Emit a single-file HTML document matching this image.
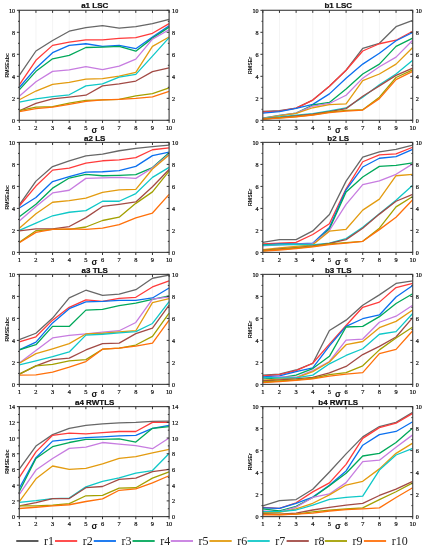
<!DOCTYPE html><html><head><meta charset="utf-8"><style>html,body{margin:0;padding:0;background:#fff;}svg{display:block;}.t{font-family:"Liberation Sans",Arial,sans-serif;fill:#111;}.n{font-family:"Liberation Serif","Times New Roman",serif;fill:#111;stroke:#111;stroke-width:0.22px;}</style></head><body>
<svg width="424" height="550" viewBox="0 0 424 550">
<rect width="424" height="550" fill="#fff"/>
<g><line x1="35.94" y1="10.3" x2="35.94" y2="120.3" stroke="#f1f1f1" stroke-width="0.8"/><line x1="52.59" y1="10.3" x2="52.59" y2="120.3" stroke="#f1f1f1" stroke-width="0.8"/><line x1="69.23" y1="10.3" x2="69.23" y2="120.3" stroke="#f1f1f1" stroke-width="0.8"/><line x1="85.88" y1="10.3" x2="85.88" y2="120.3" stroke="#f1f1f1" stroke-width="0.8"/><line x1="102.52" y1="10.3" x2="102.52" y2="120.3" stroke="#f1f1f1" stroke-width="0.8"/><line x1="119.17" y1="10.3" x2="119.17" y2="120.3" stroke="#f1f1f1" stroke-width="0.8"/><line x1="135.81" y1="10.3" x2="135.81" y2="120.3" stroke="#f1f1f1" stroke-width="0.8"/><line x1="152.46" y1="10.3" x2="152.46" y2="120.3" stroke="#f1f1f1" stroke-width="0.8"/><polyline points="19.3,75.42 35.94,51 52.59,40.55 69.23,31.2 85.88,27.68 102.52,25.7 119.17,28.12 135.81,26.69 152.46,23.61 169.1,19.43" fill="none" stroke="#676767" stroke-width="1.3" stroke-linejoin="round"/><polyline points="19.3,84.77 35.94,60.35 52.59,45.39 69.23,42.2 85.88,39.78 102.52,39.78 119.17,38.46 135.81,37.69 152.46,33.29 169.1,23.61" fill="none" stroke="#ff3b3b" stroke-width="1.3" stroke-linejoin="round"/><polyline points="19.3,87.52 35.94,68.16 52.59,52.65 69.23,45.39 85.88,43.74 102.52,46.38 119.17,45.39 135.81,48.69 152.46,37.03 169.1,25.7" fill="none" stroke="#0a6fef" stroke-width="1.3" stroke-linejoin="round"/><polyline points="19.3,89.94 35.94,71.35 52.59,58.81 69.23,55.29 85.88,47.48 102.52,47.04 119.17,46.38 135.81,51.22 152.46,38.13 169.1,27.13" fill="none" stroke="#00a85a" stroke-width="1.3" stroke-linejoin="round"/><polyline points="19.3,96.21 35.94,81.69 52.59,71.35 69.23,69.81 85.88,66.73 102.52,69.59 119.17,66.07 135.81,59.14 152.46,39.12 169.1,29.77" fill="none" stroke="#c77ce0" stroke-width="1.3" stroke-linejoin="round"/><polyline points="19.3,99.73 35.94,91.04 52.59,84.33 69.23,82.35 85.88,79.16 102.52,78.61 119.17,76.08 135.81,72.34 152.46,46.38 169.1,37.03" fill="none" stroke="#e39b0f" stroke-width="1.3" stroke-linejoin="round"/><polyline points="19.3,102.04 35.94,98.85 52.59,96.65 69.23,94.78 85.88,85.87 102.52,83.78 119.17,77.18 135.81,74.43 152.46,56.17 169.1,37.69" fill="none" stroke="#0fc8c8" stroke-width="1.3" stroke-linejoin="round"/><polyline points="19.3,110.73 35.94,103.47 52.59,98.85 69.23,97.2 85.88,95.22 102.52,85.87 119.17,83.78 135.81,81.03 152.46,71.68 169.1,67.83" fill="none" stroke="#a24a45" stroke-width="1.3" stroke-linejoin="round"/><polyline points="19.3,110.73 35.94,107.21 52.59,106.55 69.23,103.03 85.88,100.39 102.52,99.95 119.17,99.29 135.81,95.77 152.46,93.68 169.1,87.96" fill="none" stroke="#a3a000" stroke-width="1.3" stroke-linejoin="round"/><polyline points="19.3,111.72 35.94,108.64 52.59,107.21 69.23,104.46 85.88,101.38 102.52,99.95 119.17,99.29 135.81,98.3 152.46,96.87 169.1,91.48" fill="none" stroke="#ff700a" stroke-width="1.3" stroke-linejoin="round"/><rect x="19.3" y="10.3" width="149.8" height="110" fill="none" stroke="#4a4a4a" stroke-width="1.2"/><path d="M19.3 120.3v2.6M19.3 10.3v2.6M35.94 120.3v2.6M35.94 10.3v2.6M52.59 120.3v2.6M52.59 10.3v2.6M69.23 120.3v2.6M69.23 10.3v2.6M85.88 120.3v2.6M85.88 10.3v2.6M102.52 120.3v2.6M102.52 10.3v2.6M119.17 120.3v2.6M119.17 10.3v2.6M135.81 120.3v2.6M135.81 10.3v2.6M152.46 120.3v2.6M152.46 10.3v2.6M169.1 120.3v2.6M169.1 10.3v2.6M19.3 120.3h-2.4M169.1 120.3h-2.4M19.3 109.3h-1.3M169.1 109.3h-1.3M19.3 98.3h-2.4M169.1 98.3h-2.4M19.3 87.3h-1.3M169.1 87.3h-1.3M19.3 76.3h-2.4M169.1 76.3h-2.4M19.3 65.3h-1.3M169.1 65.3h-1.3M19.3 54.3h-2.4M169.1 54.3h-2.4M19.3 43.3h-1.3M169.1 43.3h-1.3M19.3 32.3h-2.4M169.1 32.3h-2.4M19.3 21.3h-1.3M169.1 21.3h-1.3M19.3 10.3h-2.4M169.1 10.3h-2.4" stroke="#333" stroke-width="1" fill="none"/><text class="n" x="19.3" y="129.9" font-size="6.4" text-anchor="middle">1</text><text class="n" x="35.94" y="129.9" font-size="6.4" text-anchor="middle">2</text><text class="n" x="52.59" y="129.9" font-size="6.4" text-anchor="middle">3</text><text class="n" x="69.23" y="129.9" font-size="6.4" text-anchor="middle">4</text><text class="n" x="85.88" y="129.9" font-size="6.4" text-anchor="middle">5</text><text class="n" x="102.52" y="129.9" font-size="6.4" text-anchor="middle">6</text><text class="n" x="119.17" y="129.9" font-size="6.4" text-anchor="middle">7</text><text class="n" x="135.81" y="129.9" font-size="6.4" text-anchor="middle">8</text><text class="n" x="152.46" y="129.9" font-size="6.4" text-anchor="middle">9</text><text class="n" x="169.1" y="129.9" font-size="6.4" text-anchor="middle">10</text><text class="n" x="15.1" y="123.1" font-size="6.1" text-anchor="end">0</text><text class="n" x="172.1" y="122.8" font-size="6.1" text-anchor="start">0</text><text class="n" x="15.1" y="101.1" font-size="6.1" text-anchor="end">2</text><text class="n" x="172.1" y="100.8" font-size="6.1" text-anchor="start">2</text><text class="n" x="15.1" y="79.1" font-size="6.1" text-anchor="end">4</text><text class="n" x="172.1" y="78.8" font-size="6.1" text-anchor="start">4</text><text class="n" x="15.1" y="57.1" font-size="6.1" text-anchor="end">6</text><text class="n" x="172.1" y="56.8" font-size="6.1" text-anchor="start">6</text><text class="n" x="15.1" y="35.1" font-size="6.1" text-anchor="end">8</text><text class="n" x="172.1" y="34.8" font-size="6.1" text-anchor="start">8</text><text class="n" x="15.1" y="13.1" font-size="6.1" text-anchor="end">10</text><text class="n" x="172.1" y="12.8" font-size="6.1" text-anchor="start">10</text><text class="t" x="94.5" y="132.7" font-size="8.6" font-weight="bold" text-anchor="middle" fill="#000">&#963;</text><text class="t" x="94.7" y="8.4" font-size="8" font-weight="bold" text-anchor="middle" fill="#000" stroke="#000" stroke-width="0.2">a1 LSC</text><text class="t" x="8.6" y="65.3" font-size="5.3" font-weight="bold" text-anchor="middle" transform="rotate(-90 8.6 65.3)">RMSEabc</text></g>
<g><line x1="35.94" y1="142.4" x2="35.94" y2="252.4" stroke="#f1f1f1" stroke-width="0.8"/><line x1="52.59" y1="142.4" x2="52.59" y2="252.4" stroke="#f1f1f1" stroke-width="0.8"/><line x1="69.23" y1="142.4" x2="69.23" y2="252.4" stroke="#f1f1f1" stroke-width="0.8"/><line x1="85.88" y1="142.4" x2="85.88" y2="252.4" stroke="#f1f1f1" stroke-width="0.8"/><line x1="102.52" y1="142.4" x2="102.52" y2="252.4" stroke="#f1f1f1" stroke-width="0.8"/><line x1="119.17" y1="142.4" x2="119.17" y2="252.4" stroke="#f1f1f1" stroke-width="0.8"/><line x1="135.81" y1="142.4" x2="135.81" y2="252.4" stroke="#f1f1f1" stroke-width="0.8"/><line x1="152.46" y1="142.4" x2="152.46" y2="252.4" stroke="#f1f1f1" stroke-width="0.8"/><polyline points="19.3,204.77 35.94,181.12 52.59,166.6 69.23,160.77 85.88,155.93 102.52,154.17 119.17,150.76 135.81,148.34 152.46,146.69 169.1,145.15" fill="none" stroke="#676767" stroke-width="1.3" stroke-linejoin="round"/><polyline points="19.3,205.98 35.94,186.07 52.59,170.12 69.23,168.03 85.88,163.08 102.52,160.77 119.17,159.78 135.81,157.69 152.46,149.77 169.1,147.9" fill="none" stroke="#ff3b3b" stroke-width="1.3" stroke-linejoin="round"/><polyline points="19.3,208.07 35.94,197.51 52.59,181.56 69.23,176.72 85.88,172.21 102.52,171.77 119.17,170.56 135.81,166.38 152.46,155.6 169.1,152.08" fill="none" stroke="#0a6fef" stroke-width="1.3" stroke-linejoin="round"/><polyline points="19.3,216.76 35.94,204.33 52.59,188.16 69.23,178.04 85.88,174.3 102.52,175.73 119.17,175.29 135.81,174.63 152.46,167.59 169.1,152.85" fill="none" stroke="#00a85a" stroke-width="1.3" stroke-linejoin="round"/><polyline points="19.3,220.94 35.94,206.42 52.59,192.89 69.23,190.25 85.88,178.37 102.52,177.82 119.17,177.38 135.81,178.37 152.46,168.03 169.1,154.17" fill="none" stroke="#c77ce0" stroke-width="1.3" stroke-linejoin="round"/><polyline points="19.3,228.2 35.94,213.68 52.59,202.24 69.23,200.59 85.88,198.06 102.52,192.34 119.17,189.81 135.81,189.37 152.46,169.02 169.1,154.94" fill="none" stroke="#e39b0f" stroke-width="1.3" stroke-linejoin="round"/><polyline points="19.3,230.29 35.94,223.03 52.59,215.77 69.23,212.25 85.88,210.6 102.52,201.25 119.17,201.25 135.81,193.55 152.46,177.38 169.1,167.37" fill="none" stroke="#0fc8c8" stroke-width="1.3" stroke-linejoin="round"/><polyline points="19.3,230.95 35.94,228.86 52.59,228.86 69.23,226.55 85.88,217.64 102.52,206.42 119.17,204.33 135.81,201.91 152.46,186.73 169.1,169.46" fill="none" stroke="#a24a45" stroke-width="1.3" stroke-linejoin="round"/><polyline points="19.3,242.17 35.94,230.73 52.59,229.3 69.23,229.3 85.88,226.99 102.52,220.5 119.17,217.2 135.81,203.34 152.46,191.9 169.1,171.11" fill="none" stroke="#a3a000" stroke-width="1.3" stroke-linejoin="round"/><polyline points="19.3,242.72 35.94,232.38 52.59,229.3 69.23,228.86 85.88,229.3 102.52,228.2 119.17,224.68 135.81,217.86 152.46,213.02 169.1,194.43" fill="none" stroke="#ff700a" stroke-width="1.3" stroke-linejoin="round"/><rect x="19.3" y="142.4" width="149.8" height="110" fill="none" stroke="#4a4a4a" stroke-width="1.2"/><path d="M19.3 252.4v2.6M19.3 142.4v2.6M35.94 252.4v2.6M35.94 142.4v2.6M52.59 252.4v2.6M52.59 142.4v2.6M69.23 252.4v2.6M69.23 142.4v2.6M85.88 252.4v2.6M85.88 142.4v2.6M102.52 252.4v2.6M102.52 142.4v2.6M119.17 252.4v2.6M119.17 142.4v2.6M135.81 252.4v2.6M135.81 142.4v2.6M152.46 252.4v2.6M152.46 142.4v2.6M169.1 252.4v2.6M169.1 142.4v2.6M19.3 252.4h-2.4M169.1 252.4h-2.4M19.3 241.4h-1.3M169.1 241.4h-1.3M19.3 230.4h-2.4M169.1 230.4h-2.4M19.3 219.4h-1.3M169.1 219.4h-1.3M19.3 208.4h-2.4M169.1 208.4h-2.4M19.3 197.4h-1.3M169.1 197.4h-1.3M19.3 186.4h-2.4M169.1 186.4h-2.4M19.3 175.4h-1.3M169.1 175.4h-1.3M19.3 164.4h-2.4M169.1 164.4h-2.4M19.3 153.4h-1.3M169.1 153.4h-1.3M19.3 142.4h-2.4M169.1 142.4h-2.4" stroke="#333" stroke-width="1" fill="none"/><text class="n" x="19.3" y="262" font-size="6.4" text-anchor="middle">1</text><text class="n" x="35.94" y="262" font-size="6.4" text-anchor="middle">2</text><text class="n" x="52.59" y="262" font-size="6.4" text-anchor="middle">3</text><text class="n" x="69.23" y="262" font-size="6.4" text-anchor="middle">4</text><text class="n" x="85.88" y="262" font-size="6.4" text-anchor="middle">5</text><text class="n" x="102.52" y="262" font-size="6.4" text-anchor="middle">6</text><text class="n" x="119.17" y="262" font-size="6.4" text-anchor="middle">7</text><text class="n" x="135.81" y="262" font-size="6.4" text-anchor="middle">8</text><text class="n" x="152.46" y="262" font-size="6.4" text-anchor="middle">9</text><text class="n" x="169.1" y="262" font-size="6.4" text-anchor="middle">10</text><text class="n" x="15.1" y="255.2" font-size="6.1" text-anchor="end">0</text><text class="n" x="172.1" y="254.9" font-size="6.1" text-anchor="start">0</text><text class="n" x="15.1" y="233.2" font-size="6.1" text-anchor="end">2</text><text class="n" x="172.1" y="232.9" font-size="6.1" text-anchor="start">2</text><text class="n" x="15.1" y="211.2" font-size="6.1" text-anchor="end">4</text><text class="n" x="172.1" y="210.9" font-size="6.1" text-anchor="start">4</text><text class="n" x="15.1" y="189.2" font-size="6.1" text-anchor="end">6</text><text class="n" x="172.1" y="188.9" font-size="6.1" text-anchor="start">6</text><text class="n" x="15.1" y="167.2" font-size="6.1" text-anchor="end">8</text><text class="n" x="172.1" y="166.9" font-size="6.1" text-anchor="start">8</text><text class="n" x="15.1" y="145.2" font-size="6.1" text-anchor="end">10</text><text class="n" x="172.1" y="144.9" font-size="6.1" text-anchor="start">10</text><text class="t" x="94.5" y="264.8" font-size="8.6" font-weight="bold" text-anchor="middle" fill="#000">&#963;</text><text class="t" x="94.7" y="140.5" font-size="8" font-weight="bold" text-anchor="middle" fill="#000" stroke="#000" stroke-width="0.2">a2 LS</text><text class="t" x="8.6" y="197.4" font-size="5.3" font-weight="bold" text-anchor="middle" transform="rotate(-90 8.6 197.4)">RMSEabc</text></g>
<g><line x1="35.94" y1="274.4" x2="35.94" y2="384.4" stroke="#f1f1f1" stroke-width="0.8"/><line x1="52.59" y1="274.4" x2="52.59" y2="384.4" stroke="#f1f1f1" stroke-width="0.8"/><line x1="69.23" y1="274.4" x2="69.23" y2="384.4" stroke="#f1f1f1" stroke-width="0.8"/><line x1="85.88" y1="274.4" x2="85.88" y2="384.4" stroke="#f1f1f1" stroke-width="0.8"/><line x1="102.52" y1="274.4" x2="102.52" y2="384.4" stroke="#f1f1f1" stroke-width="0.8"/><line x1="119.17" y1="274.4" x2="119.17" y2="384.4" stroke="#f1f1f1" stroke-width="0.8"/><line x1="135.81" y1="274.4" x2="135.81" y2="384.4" stroke="#f1f1f1" stroke-width="0.8"/><line x1="152.46" y1="274.4" x2="152.46" y2="384.4" stroke="#f1f1f1" stroke-width="0.8"/><polyline points="19.3,339.52 35.94,333.25 52.59,318.07 69.23,297.94 85.88,290.24 102.52,295.3 119.17,294.2 135.81,289.69 152.46,278.25 169.1,275.17" fill="none" stroke="#676767" stroke-width="1.3" stroke-linejoin="round"/><polyline points="19.3,341.94 35.94,336.77 52.59,320.16 69.23,307.29 85.88,299.81 102.52,301.46 119.17,298.38 135.81,297.28 152.46,286.94 169.1,280.78" fill="none" stroke="#ff3b3b" stroke-width="1.3" stroke-linejoin="round"/><polyline points="19.3,349.86 35.94,342.16 52.59,322.91 69.23,308.72 85.88,301.9 102.52,301.46 119.17,300.47 135.81,300.47 152.46,297.94 169.1,288.04" fill="none" stroke="#0a6fef" stroke-width="1.3" stroke-linejoin="round"/><polyline points="19.3,349.86 35.94,344.69 52.59,326.43 69.23,326.43 85.88,310.15 102.52,309.38 119.17,305.64 135.81,303.11 152.46,299.37 169.1,295.85" fill="none" stroke="#00a85a" stroke-width="1.3" stroke-linejoin="round"/><polyline points="19.3,362.95 35.94,350.52 52.59,337.98 69.23,335.34 85.88,333.91 102.52,332.15 119.17,330.72 135.81,322.47 152.46,299.04 169.1,296.95" fill="none" stroke="#c77ce0" stroke-width="1.3" stroke-linejoin="round"/><polyline points="19.3,363.28 35.94,353.6 52.59,348.76 69.23,343.59 85.88,334.02 102.52,333.25 119.17,331.82 135.81,330.72 152.46,302.56 169.1,298.6" fill="none" stroke="#e39b0f" stroke-width="1.3" stroke-linejoin="round"/><polyline points="19.3,364.82 35.94,360.86 52.59,356.68 69.23,351.95 85.88,335.12 102.52,334.24 119.17,332.81 135.81,331.6 152.46,323.46 169.1,301.68" fill="none" stroke="#0fc8c8" stroke-width="1.3" stroke-linejoin="round"/><polyline points="19.3,374.17 35.94,365.81 52.59,359.65 69.23,358.11 85.88,349.97 102.52,343.59 119.17,343.15 135.81,333.69 152.46,328.08 169.1,305.2" fill="none" stroke="#a24a45" stroke-width="1.3" stroke-linejoin="round"/><polyline points="19.3,374.17 35.94,365.81 52.59,364.38 69.23,360.86 85.88,359.65 102.52,349.2 119.17,348.21 135.81,345.02 152.46,336.33 169.1,313.12" fill="none" stroke="#a3a000" stroke-width="1.3" stroke-linejoin="round"/><polyline points="19.3,375.05 35.94,374.83 52.59,372.08 69.23,367.02 85.88,361.52 102.52,349.2 119.17,348.21 135.81,346.12 152.46,343.04 169.1,320.16" fill="none" stroke="#ff700a" stroke-width="1.3" stroke-linejoin="round"/><rect x="19.3" y="274.4" width="149.8" height="110" fill="none" stroke="#4a4a4a" stroke-width="1.2"/><path d="M19.3 384.4v2.6M19.3 274.4v2.6M35.94 384.4v2.6M35.94 274.4v2.6M52.59 384.4v2.6M52.59 274.4v2.6M69.23 384.4v2.6M69.23 274.4v2.6M85.88 384.4v2.6M85.88 274.4v2.6M102.52 384.4v2.6M102.52 274.4v2.6M119.17 384.4v2.6M119.17 274.4v2.6M135.81 384.4v2.6M135.81 274.4v2.6M152.46 384.4v2.6M152.46 274.4v2.6M169.1 384.4v2.6M169.1 274.4v2.6M19.3 384.4h-2.4M169.1 384.4h-2.4M19.3 373.4h-1.3M169.1 373.4h-1.3M19.3 362.4h-2.4M169.1 362.4h-2.4M19.3 351.4h-1.3M169.1 351.4h-1.3M19.3 340.4h-2.4M169.1 340.4h-2.4M19.3 329.4h-1.3M169.1 329.4h-1.3M19.3 318.4h-2.4M169.1 318.4h-2.4M19.3 307.4h-1.3M169.1 307.4h-1.3M19.3 296.4h-2.4M169.1 296.4h-2.4M19.3 285.4h-1.3M169.1 285.4h-1.3M19.3 274.4h-2.4M169.1 274.4h-2.4" stroke="#333" stroke-width="1" fill="none"/><text class="n" x="19.3" y="394" font-size="6.4" text-anchor="middle">1</text><text class="n" x="35.94" y="394" font-size="6.4" text-anchor="middle">2</text><text class="n" x="52.59" y="394" font-size="6.4" text-anchor="middle">3</text><text class="n" x="69.23" y="394" font-size="6.4" text-anchor="middle">4</text><text class="n" x="85.88" y="394" font-size="6.4" text-anchor="middle">5</text><text class="n" x="102.52" y="394" font-size="6.4" text-anchor="middle">6</text><text class="n" x="119.17" y="394" font-size="6.4" text-anchor="middle">7</text><text class="n" x="135.81" y="394" font-size="6.4" text-anchor="middle">8</text><text class="n" x="152.46" y="394" font-size="6.4" text-anchor="middle">9</text><text class="n" x="169.1" y="394" font-size="6.4" text-anchor="middle">10</text><text class="n" x="15.1" y="387.2" font-size="6.1" text-anchor="end">0</text><text class="n" x="172.1" y="386.9" font-size="6.1" text-anchor="start">0</text><text class="n" x="15.1" y="365.2" font-size="6.1" text-anchor="end">2</text><text class="n" x="172.1" y="364.9" font-size="6.1" text-anchor="start">2</text><text class="n" x="15.1" y="343.2" font-size="6.1" text-anchor="end">4</text><text class="n" x="172.1" y="342.9" font-size="6.1" text-anchor="start">4</text><text class="n" x="15.1" y="321.2" font-size="6.1" text-anchor="end">6</text><text class="n" x="172.1" y="320.9" font-size="6.1" text-anchor="start">6</text><text class="n" x="15.1" y="299.2" font-size="6.1" text-anchor="end">8</text><text class="n" x="172.1" y="298.9" font-size="6.1" text-anchor="start">8</text><text class="n" x="15.1" y="277.2" font-size="6.1" text-anchor="end">10</text><text class="n" x="172.1" y="276.9" font-size="6.1" text-anchor="start">10</text><text class="t" x="94.5" y="396.8" font-size="8.6" font-weight="bold" text-anchor="middle" fill="#000">&#963;</text><text class="t" x="94.7" y="272.5" font-size="8" font-weight="bold" text-anchor="middle" fill="#000" stroke="#000" stroke-width="0.2">a3 TLS</text><text class="t" x="8.6" y="329.4" font-size="5.3" font-weight="bold" text-anchor="middle" transform="rotate(-90 8.6 329.4)">RMSEabc</text></g>
<g><line x1="35.94" y1="406.6" x2="35.94" y2="516.6" stroke="#f1f1f1" stroke-width="0.8"/><line x1="52.59" y1="406.6" x2="52.59" y2="516.6" stroke="#f1f1f1" stroke-width="0.8"/><line x1="69.23" y1="406.6" x2="69.23" y2="516.6" stroke="#f1f1f1" stroke-width="0.8"/><line x1="85.88" y1="406.6" x2="85.88" y2="516.6" stroke="#f1f1f1" stroke-width="0.8"/><line x1="102.52" y1="406.6" x2="102.52" y2="516.6" stroke="#f1f1f1" stroke-width="0.8"/><line x1="119.17" y1="406.6" x2="119.17" y2="516.6" stroke="#f1f1f1" stroke-width="0.8"/><line x1="135.81" y1="406.6" x2="135.81" y2="516.6" stroke="#f1f1f1" stroke-width="0.8"/><line x1="152.46" y1="406.6" x2="152.46" y2="516.6" stroke="#f1f1f1" stroke-width="0.8"/><polyline points="19.3,469.06 35.94,446.04 52.59,434.65 69.23,428.36 85.88,425.46 102.52,423.81 119.17,422.79 135.81,422.39 152.46,421.37 169.1,421.14" fill="none" stroke="#676767" stroke-width="1.3" stroke-linejoin="round"/><polyline points="19.3,477.39 35.94,451.86 52.59,435.28 69.23,433.16 85.88,433.79 102.52,432.53 119.17,431.51 135.81,431.51 152.46,422.39 169.1,422.39" fill="none" stroke="#ff3b3b" stroke-width="1.3" stroke-linejoin="round"/><polyline points="19.3,488.31 35.94,457.67 52.59,441.09 69.23,439.36 85.88,437.71 102.52,436.93 119.17,435.91 135.81,435.28 152.46,428.36 169.1,425.3" fill="none" stroke="#0a6fef" stroke-width="1.3" stroke-linejoin="round"/><polyline points="19.3,491.46 35.94,458.46 52.59,446.67 69.23,442.51 85.88,439.36 102.52,439.36 119.17,438.81 135.81,442.11 152.46,428.36 169.1,426.56" fill="none" stroke="#00a85a" stroke-width="1.3" stroke-linejoin="round"/><polyline points="19.3,494.36 35.94,470.09 52.59,458.46 69.23,448.32 85.88,447.06 102.52,442.51 119.17,444.16 135.81,445.65 152.46,448.71 169.1,437.95" fill="none" stroke="#c77ce0" stroke-width="1.3" stroke-linejoin="round"/><polyline points="19.3,501.67 35.94,478.81 52.59,466 69.23,469.46 85.88,468.28 102.52,463.88 119.17,458.46 135.81,456.65 152.46,452.88 169.1,449.34" fill="none" stroke="#e39b0f" stroke-width="1.3" stroke-linejoin="round"/><polyline points="19.3,502.3 35.94,500.65 52.59,498.53 69.23,498.14 85.88,486.9 102.52,481.32 119.17,477.79 135.81,473.23 152.46,470.56 169.1,453.51" fill="none" stroke="#0fc8c8" stroke-width="1.3" stroke-linejoin="round"/><polyline points="19.3,505.84 35.94,502.69 52.59,498.53 69.23,498.53 85.88,487.69 102.52,486.51 119.17,479.28 135.81,478.18 152.46,471.58 169.1,469.46" fill="none" stroke="#a24a45" stroke-width="1.3" stroke-linejoin="round"/><polyline points="19.3,505.84 35.94,505.84 52.59,505.21 69.23,503.71 85.88,495.78 102.52,495.46 119.17,488.16 135.81,487.76 152.46,478.18 169.1,471.97" fill="none" stroke="#a3a000" stroke-width="1.3" stroke-linejoin="round"/><polyline points="19.3,508.51 35.94,507.25 52.59,505.84 69.23,504.74 85.88,501.51 102.52,498.92 119.17,490.28 135.81,488.79 152.46,482.97 169.1,475.74" fill="none" stroke="#ff700a" stroke-width="1.3" stroke-linejoin="round"/><rect x="19.3" y="406.6" width="149.8" height="110" fill="none" stroke="#4a4a4a" stroke-width="1.2"/><path d="M19.3 516.6v2.6M19.3 406.6v2.6M35.94 516.6v2.6M35.94 406.6v2.6M52.59 516.6v2.6M52.59 406.6v2.6M69.23 516.6v2.6M69.23 406.6v2.6M85.88 516.6v2.6M85.88 406.6v2.6M102.52 516.6v2.6M102.52 406.6v2.6M119.17 516.6v2.6M119.17 406.6v2.6M135.81 516.6v2.6M135.81 406.6v2.6M152.46 516.6v2.6M152.46 406.6v2.6M169.1 516.6v2.6M169.1 406.6v2.6M19.3 516.6h-2.4M169.1 516.6h-2.4M19.3 508.74h-1.3M169.1 508.74h-1.3M19.3 500.89h-2.4M169.1 500.89h-2.4M19.3 493.03h-1.3M169.1 493.03h-1.3M19.3 485.17h-2.4M169.1 485.17h-2.4M19.3 477.31h-1.3M169.1 477.31h-1.3M19.3 469.46h-2.4M169.1 469.46h-2.4M19.3 461.6h-1.3M169.1 461.6h-1.3M19.3 453.74h-2.4M169.1 453.74h-2.4M19.3 445.89h-1.3M169.1 445.89h-1.3M19.3 438.03h-2.4M169.1 438.03h-2.4M19.3 430.17h-1.3M169.1 430.17h-1.3M19.3 422.31h-2.4M169.1 422.31h-2.4M19.3 414.46h-1.3M169.1 414.46h-1.3M19.3 406.6h-2.4M169.1 406.6h-2.4" stroke="#333" stroke-width="1" fill="none"/><text class="n" x="19.3" y="526.2" font-size="6.4" text-anchor="middle">1</text><text class="n" x="35.94" y="526.2" font-size="6.4" text-anchor="middle">2</text><text class="n" x="52.59" y="526.2" font-size="6.4" text-anchor="middle">3</text><text class="n" x="69.23" y="526.2" font-size="6.4" text-anchor="middle">4</text><text class="n" x="85.88" y="526.2" font-size="6.4" text-anchor="middle">5</text><text class="n" x="102.52" y="526.2" font-size="6.4" text-anchor="middle">6</text><text class="n" x="119.17" y="526.2" font-size="6.4" text-anchor="middle">7</text><text class="n" x="135.81" y="526.2" font-size="6.4" text-anchor="middle">8</text><text class="n" x="152.46" y="526.2" font-size="6.4" text-anchor="middle">9</text><text class="n" x="169.1" y="526.2" font-size="6.4" text-anchor="middle">10</text><text class="n" x="15.1" y="519.4" font-size="6.1" text-anchor="end">0</text><text class="n" x="172.1" y="519.1" font-size="6.1" text-anchor="start">0</text><text class="n" x="15.1" y="503.69" font-size="6.1" text-anchor="end">2</text><text class="n" x="172.1" y="503.39" font-size="6.1" text-anchor="start">2</text><text class="n" x="15.1" y="487.97" font-size="6.1" text-anchor="end">4</text><text class="n" x="172.1" y="487.67" font-size="6.1" text-anchor="start">4</text><text class="n" x="15.1" y="472.26" font-size="6.1" text-anchor="end">6</text><text class="n" x="172.1" y="471.96" font-size="6.1" text-anchor="start">6</text><text class="n" x="15.1" y="456.54" font-size="6.1" text-anchor="end">8</text><text class="n" x="172.1" y="456.24" font-size="6.1" text-anchor="start">8</text><text class="n" x="15.1" y="440.83" font-size="6.1" text-anchor="end">10</text><text class="n" x="172.1" y="440.53" font-size="6.1" text-anchor="start">10</text><text class="n" x="15.1" y="425.11" font-size="6.1" text-anchor="end">12</text><text class="n" x="172.1" y="424.81" font-size="6.1" text-anchor="start">12</text><text class="n" x="15.1" y="409.4" font-size="6.1" text-anchor="end">14</text><text class="n" x="172.1" y="409.1" font-size="6.1" text-anchor="start">14</text><text class="t" x="94.5" y="529" font-size="8.6" font-weight="bold" text-anchor="middle" fill="#000">&#963;</text><text class="t" x="94.7" y="404.7" font-size="8" font-weight="bold" text-anchor="middle" fill="#000" stroke="#000" stroke-width="0.2">a4 RWTLS</text><text class="t" x="8.6" y="461.6" font-size="5.3" font-weight="bold" text-anchor="middle" transform="rotate(-90 8.6 461.6)">RMSEabc</text></g>
<g><line x1="279.46" y1="10.3" x2="279.46" y2="120.3" stroke="#f1f1f1" stroke-width="0.8"/><line x1="296.11" y1="10.3" x2="296.11" y2="120.3" stroke="#f1f1f1" stroke-width="0.8"/><line x1="312.77" y1="10.3" x2="312.77" y2="120.3" stroke="#f1f1f1" stroke-width="0.8"/><line x1="329.42" y1="10.3" x2="329.42" y2="120.3" stroke="#f1f1f1" stroke-width="0.8"/><line x1="346.08" y1="10.3" x2="346.08" y2="120.3" stroke="#f1f1f1" stroke-width="0.8"/><line x1="362.73" y1="10.3" x2="362.73" y2="120.3" stroke="#f1f1f1" stroke-width="0.8"/><line x1="379.39" y1="10.3" x2="379.39" y2="120.3" stroke="#f1f1f1" stroke-width="0.8"/><line x1="396.04" y1="10.3" x2="396.04" y2="120.3" stroke="#f1f1f1" stroke-width="0.8"/><polyline points="262.8,111.28 279.46,110.73 296.11,108.2 312.77,100.06 329.42,86.2 346.08,70.25 362.73,48.47 379.39,43.3 396.04,26.69 412.7,20.42" fill="none" stroke="#676767" stroke-width="1.3" stroke-linejoin="round"/><polyline points="262.8,112.05 279.46,111.06 296.11,108.2 312.77,100.06 329.42,86.2 346.08,70.25 362.73,51 379.39,43.74 396.04,40.22 412.7,31.2" fill="none" stroke="#ff3b3b" stroke-width="1.3" stroke-linejoin="round"/><polyline points="262.8,113.15 279.46,111.72 296.11,108.42 312.77,104.35 329.42,93.9 346.08,78.17 362.73,64.09 379.39,53.2 396.04,40.77 412.7,32.52" fill="none" stroke="#0a6fef" stroke-width="1.3" stroke-linejoin="round"/><polyline points="262.8,118.1 279.46,115.35 296.11,113.15 312.77,105.01 329.42,102.48 346.08,88.95 362.73,73.99 379.39,64.09 396.04,46.38 412.7,38.13" fill="none" stroke="#00a85a" stroke-width="1.3" stroke-linejoin="round"/><polyline points="262.8,118.43 279.46,115.68 296.11,113.15 312.77,106.22 329.42,103.47 346.08,95.22 362.73,78.17 379.39,66.73 396.04,57.16 412.7,40.22" fill="none" stroke="#c77ce0" stroke-width="1.3" stroke-linejoin="round"/><polyline points="262.8,118.65 279.46,115.9 296.11,113.48 312.77,107.76 329.42,104.68 346.08,103.91 362.73,80.7 379.39,73.99 396.04,64.09 412.7,47.48" fill="none" stroke="#e39b0f" stroke-width="1.3" stroke-linejoin="round"/><polyline points="262.8,118.65 279.46,117 296.11,115.13 312.77,113.59 329.42,110.84 346.08,107.98 362.73,97.2 379.39,84.77 396.04,73.99 412.7,60.35" fill="none" stroke="#0fc8c8" stroke-width="1.3" stroke-linejoin="round"/><polyline points="262.8,118.98 279.46,117.55 296.11,115.9 312.77,114.25 329.42,111.72 346.08,108.64 362.73,96.21 379.39,85.87 396.04,75.42 412.7,68.16" fill="none" stroke="#a24a45" stroke-width="1.3" stroke-linejoin="round"/><polyline points="262.8,119.09 279.46,117.88 296.11,116.67 312.77,114.8 329.42,112.16 346.08,110.29 362.73,109.74 379.39,97.2 396.04,77.51 412.7,69.92" fill="none" stroke="#a3a000" stroke-width="1.3" stroke-linejoin="round"/><polyline points="262.8,119.2 279.46,118.1 296.11,116.78 312.77,115.02 329.42,112.6 346.08,111.17 362.73,110.07 379.39,98.63 396.04,79.6 412.7,71.35" fill="none" stroke="#ff700a" stroke-width="1.3" stroke-linejoin="round"/><rect x="262.8" y="10.3" width="149.9" height="110" fill="none" stroke="#4a4a4a" stroke-width="1.2"/><path d="M262.8 120.3v2.6M262.8 10.3v2.6M279.46 120.3v2.6M279.46 10.3v2.6M296.11 120.3v2.6M296.11 10.3v2.6M312.77 120.3v2.6M312.77 10.3v2.6M329.42 120.3v2.6M329.42 10.3v2.6M346.08 120.3v2.6M346.08 10.3v2.6M362.73 120.3v2.6M362.73 10.3v2.6M379.39 120.3v2.6M379.39 10.3v2.6M396.04 120.3v2.6M396.04 10.3v2.6M412.7 120.3v2.6M412.7 10.3v2.6M262.8 120.3h-2.4M412.7 120.3h-2.4M262.8 109.3h-1.3M412.7 109.3h-1.3M262.8 98.3h-2.4M412.7 98.3h-2.4M262.8 87.3h-1.3M412.7 87.3h-1.3M262.8 76.3h-2.4M412.7 76.3h-2.4M262.8 65.3h-1.3M412.7 65.3h-1.3M262.8 54.3h-2.4M412.7 54.3h-2.4M262.8 43.3h-1.3M412.7 43.3h-1.3M262.8 32.3h-2.4M412.7 32.3h-2.4M262.8 21.3h-1.3M412.7 21.3h-1.3M262.8 10.3h-2.4M412.7 10.3h-2.4" stroke="#333" stroke-width="1" fill="none"/><text class="n" x="262.8" y="129.9" font-size="6.4" text-anchor="middle">1</text><text class="n" x="279.46" y="129.9" font-size="6.4" text-anchor="middle">2</text><text class="n" x="296.11" y="129.9" font-size="6.4" text-anchor="middle">3</text><text class="n" x="312.77" y="129.9" font-size="6.4" text-anchor="middle">4</text><text class="n" x="329.42" y="129.9" font-size="6.4" text-anchor="middle">5</text><text class="n" x="346.08" y="129.9" font-size="6.4" text-anchor="middle">6</text><text class="n" x="362.73" y="129.9" font-size="6.4" text-anchor="middle">7</text><text class="n" x="379.39" y="129.9" font-size="6.4" text-anchor="middle">8</text><text class="n" x="396.04" y="129.9" font-size="6.4" text-anchor="middle">9</text><text class="n" x="412.7" y="129.9" font-size="6.4" text-anchor="middle">10</text><text class="n" x="258.6" y="123.1" font-size="6.1" text-anchor="end">0</text><text class="n" x="415.7" y="122.8" font-size="6.1" text-anchor="start">0</text><text class="n" x="258.6" y="101.1" font-size="6.1" text-anchor="end">2</text><text class="n" x="415.7" y="100.8" font-size="6.1" text-anchor="start">2</text><text class="n" x="258.6" y="79.1" font-size="6.1" text-anchor="end">4</text><text class="n" x="415.7" y="78.8" font-size="6.1" text-anchor="start">4</text><text class="n" x="258.6" y="57.1" font-size="6.1" text-anchor="end">6</text><text class="n" x="415.7" y="56.8" font-size="6.1" text-anchor="start">6</text><text class="n" x="258.6" y="35.1" font-size="6.1" text-anchor="end">8</text><text class="n" x="415.7" y="34.8" font-size="6.1" text-anchor="start">8</text><text class="n" x="258.6" y="13.1" font-size="6.1" text-anchor="end">10</text><text class="n" x="415.7" y="12.8" font-size="6.1" text-anchor="start">10</text><text class="t" x="338.05" y="132.7" font-size="8.6" font-weight="bold" text-anchor="middle" fill="#000">&#963;</text><text class="t" x="338.25" y="8.4" font-size="8" font-weight="bold" text-anchor="middle" fill="#000" stroke="#000" stroke-width="0.2">b1 LSC</text><text class="t" x="252.1" y="65.3" font-size="5.3" font-weight="bold" text-anchor="middle" transform="rotate(-90 252.1 65.3)">RMSEr</text></g>
<g><line x1="279.46" y1="142.4" x2="279.46" y2="252.4" stroke="#f1f1f1" stroke-width="0.8"/><line x1="296.11" y1="142.4" x2="296.11" y2="252.4" stroke="#f1f1f1" stroke-width="0.8"/><line x1="312.77" y1="142.4" x2="312.77" y2="252.4" stroke="#f1f1f1" stroke-width="0.8"/><line x1="329.42" y1="142.4" x2="329.42" y2="252.4" stroke="#f1f1f1" stroke-width="0.8"/><line x1="346.08" y1="142.4" x2="346.08" y2="252.4" stroke="#f1f1f1" stroke-width="0.8"/><line x1="362.73" y1="142.4" x2="362.73" y2="252.4" stroke="#f1f1f1" stroke-width="0.8"/><line x1="379.39" y1="142.4" x2="379.39" y2="252.4" stroke="#f1f1f1" stroke-width="0.8"/><line x1="396.04" y1="142.4" x2="396.04" y2="252.4" stroke="#f1f1f1" stroke-width="0.8"/><polyline points="262.8,242.39 279.46,239.64 296.11,239.64 312.77,230.95 329.42,214.56 346.08,181.12 362.73,157.03 379.39,151.86 396.04,149.33 412.7,145.15" fill="none" stroke="#676767" stroke-width="1.3" stroke-linejoin="round"/><polyline points="262.8,243.82 279.46,243.16 296.11,242.39 312.77,234.47 329.42,223.8 346.08,188.82 362.73,161.76 379.39,154.94 396.04,153.95 412.7,147.24" fill="none" stroke="#ff3b3b" stroke-width="1.3" stroke-linejoin="round"/><polyline points="262.8,244.81 279.46,243.82 296.11,243.82 312.77,243.16 329.42,227.43 346.08,189.81 362.73,167.04 379.39,158.24 396.04,156.59 412.7,149.33" fill="none" stroke="#0a6fef" stroke-width="1.3" stroke-linejoin="round"/><polyline points="262.8,245.25 279.46,244.37 296.11,244.37 312.77,244.15 329.42,228.97 346.08,191.9 362.73,176.94 379.39,166.38 396.04,165.28 412.7,162.86" fill="none" stroke="#00a85a" stroke-width="1.3" stroke-linejoin="round"/><polyline points="262.8,245.91 279.46,244.81 296.11,244.37 312.77,243.82 329.42,230.51 346.08,204.33 362.73,184.64 379.39,180.9 396.04,174.3 412.7,163.85" fill="none" stroke="#c77ce0" stroke-width="1.3" stroke-linejoin="round"/><polyline points="262.8,249.65 279.46,247.89 296.11,246.46 312.77,244.81 329.42,231.17 346.08,229.3 362.73,210.16 379.39,199.16 396.04,175.73 412.7,174.3" fill="none" stroke="#e39b0f" stroke-width="1.3" stroke-linejoin="round"/><polyline points="262.8,245.47 279.46,244.81 296.11,244.37 312.77,244.81 329.42,243.05 346.08,238.65 362.73,227.21 379.39,213.68 396.04,200.15 412.7,185.3" fill="none" stroke="#0fc8c8" stroke-width="1.3" stroke-linejoin="round"/><polyline points="262.8,250.42 279.46,248.99 296.11,247.56 312.77,245.91 329.42,243.49 346.08,239.64 362.73,228.2 379.39,214.12 396.04,201.25 412.7,194.43" fill="none" stroke="#a24a45" stroke-width="1.3" stroke-linejoin="round"/><polyline points="262.8,250.75 279.46,249.43 296.11,248 312.77,246.35 329.42,243.82 346.08,242.72 362.73,241.29 379.39,228.2 396.04,206.86 412.7,196.52" fill="none" stroke="#a3a000" stroke-width="1.3" stroke-linejoin="round"/><polyline points="262.8,251.08 279.46,249.98 296.11,248.55 312.77,246.9 329.42,244.59 346.08,243.16 362.73,241.29 379.39,229.63 396.04,217.2 412.7,199.82" fill="none" stroke="#ff700a" stroke-width="1.3" stroke-linejoin="round"/><rect x="262.8" y="142.4" width="149.9" height="110" fill="none" stroke="#4a4a4a" stroke-width="1.2"/><path d="M262.8 252.4v2.6M262.8 142.4v2.6M279.46 252.4v2.6M279.46 142.4v2.6M296.11 252.4v2.6M296.11 142.4v2.6M312.77 252.4v2.6M312.77 142.4v2.6M329.42 252.4v2.6M329.42 142.4v2.6M346.08 252.4v2.6M346.08 142.4v2.6M362.73 252.4v2.6M362.73 142.4v2.6M379.39 252.4v2.6M379.39 142.4v2.6M396.04 252.4v2.6M396.04 142.4v2.6M412.7 252.4v2.6M412.7 142.4v2.6M262.8 252.4h-2.4M412.7 252.4h-2.4M262.8 241.4h-1.3M412.7 241.4h-1.3M262.8 230.4h-2.4M412.7 230.4h-2.4M262.8 219.4h-1.3M412.7 219.4h-1.3M262.8 208.4h-2.4M412.7 208.4h-2.4M262.8 197.4h-1.3M412.7 197.4h-1.3M262.8 186.4h-2.4M412.7 186.4h-2.4M262.8 175.4h-1.3M412.7 175.4h-1.3M262.8 164.4h-2.4M412.7 164.4h-2.4M262.8 153.4h-1.3M412.7 153.4h-1.3M262.8 142.4h-2.4M412.7 142.4h-2.4" stroke="#333" stroke-width="1" fill="none"/><text class="n" x="262.8" y="262" font-size="6.4" text-anchor="middle">1</text><text class="n" x="279.46" y="262" font-size="6.4" text-anchor="middle">2</text><text class="n" x="296.11" y="262" font-size="6.4" text-anchor="middle">3</text><text class="n" x="312.77" y="262" font-size="6.4" text-anchor="middle">4</text><text class="n" x="329.42" y="262" font-size="6.4" text-anchor="middle">5</text><text class="n" x="346.08" y="262" font-size="6.4" text-anchor="middle">6</text><text class="n" x="362.73" y="262" font-size="6.4" text-anchor="middle">7</text><text class="n" x="379.39" y="262" font-size="6.4" text-anchor="middle">8</text><text class="n" x="396.04" y="262" font-size="6.4" text-anchor="middle">9</text><text class="n" x="412.7" y="262" font-size="6.4" text-anchor="middle">10</text><text class="n" x="258.6" y="255.2" font-size="6.1" text-anchor="end">0</text><text class="n" x="415.7" y="254.9" font-size="6.1" text-anchor="start">0</text><text class="n" x="258.6" y="233.2" font-size="6.1" text-anchor="end">2</text><text class="n" x="415.7" y="232.9" font-size="6.1" text-anchor="start">2</text><text class="n" x="258.6" y="211.2" font-size="6.1" text-anchor="end">4</text><text class="n" x="415.7" y="210.9" font-size="6.1" text-anchor="start">4</text><text class="n" x="258.6" y="189.2" font-size="6.1" text-anchor="end">6</text><text class="n" x="415.7" y="188.9" font-size="6.1" text-anchor="start">6</text><text class="n" x="258.6" y="167.2" font-size="6.1" text-anchor="end">8</text><text class="n" x="415.7" y="166.9" font-size="6.1" text-anchor="start">8</text><text class="n" x="258.6" y="145.2" font-size="6.1" text-anchor="end">10</text><text class="n" x="415.7" y="144.9" font-size="6.1" text-anchor="start">10</text><text class="t" x="338.05" y="264.8" font-size="8.6" font-weight="bold" text-anchor="middle" fill="#000">&#963;</text><text class="t" x="338.25" y="140.5" font-size="8" font-weight="bold" text-anchor="middle" fill="#000" stroke="#000" stroke-width="0.2">b2 LS</text><text class="t" x="252.1" y="197.4" font-size="5.3" font-weight="bold" text-anchor="middle" transform="rotate(-90 252.1 197.4)">RMSEr</text></g>
<g><line x1="279.46" y1="274.4" x2="279.46" y2="384.4" stroke="#f1f1f1" stroke-width="0.8"/><line x1="296.11" y1="274.4" x2="296.11" y2="384.4" stroke="#f1f1f1" stroke-width="0.8"/><line x1="312.77" y1="274.4" x2="312.77" y2="384.4" stroke="#f1f1f1" stroke-width="0.8"/><line x1="329.42" y1="274.4" x2="329.42" y2="384.4" stroke="#f1f1f1" stroke-width="0.8"/><line x1="346.08" y1="274.4" x2="346.08" y2="384.4" stroke="#f1f1f1" stroke-width="0.8"/><line x1="362.73" y1="274.4" x2="362.73" y2="384.4" stroke="#f1f1f1" stroke-width="0.8"/><line x1="379.39" y1="274.4" x2="379.39" y2="384.4" stroke="#f1f1f1" stroke-width="0.8"/><line x1="396.04" y1="274.4" x2="396.04" y2="384.4" stroke="#f1f1f1" stroke-width="0.8"/><polyline points="262.8,375.16 279.46,374.17 296.11,369.99 312.77,363.28 329.42,330.5 346.08,320.16 362.73,305.2 379.39,294.86 396.04,283.42 412.7,280.89" fill="none" stroke="#676767" stroke-width="1.3" stroke-linejoin="round"/><polyline points="262.8,375.82 279.46,374.72 296.11,370.65 312.77,363.28 329.42,344.14 346.08,325.55 362.73,307.29 379.39,302.12 396.04,287.6 412.7,283.42" fill="none" stroke="#ff3b3b" stroke-width="1.3" stroke-linejoin="round"/><polyline points="262.8,376.81 279.46,375.82 296.11,371.64 312.77,367.9 329.42,345.9 346.08,326.43 362.73,318.73 379.39,314.99 396.04,296.95 412.7,285.51" fill="none" stroke="#0a6fef" stroke-width="1.3" stroke-linejoin="round"/><polyline points="262.8,378.9 279.46,377.91 296.11,375.16 312.77,368.56 329.42,356.35 346.08,326.98 362.73,326.43 379.39,316.64 396.04,303.55 412.7,293.76" fill="none" stroke="#00a85a" stroke-width="1.3" stroke-linejoin="round"/><polyline points="262.8,377.91 279.46,376.81 296.11,377.25 312.77,370.65 329.42,361.52 346.08,340.07 362.73,339.08 379.39,322.25 396.04,316.2 412.7,305.2" fill="none" stroke="#c77ce0" stroke-width="1.3" stroke-linejoin="round"/><polyline points="262.8,380.33 279.46,378.9 296.11,377.91 312.77,371.64 329.42,361.96 346.08,344.69 362.73,341.5 379.39,327.64 396.04,321.37 412.7,310.04" fill="none" stroke="#e39b0f" stroke-width="1.3" stroke-linejoin="round"/><polyline points="262.8,377.47 279.46,377.91 296.11,377.91 312.77,375.16 329.42,363.83 346.08,355.47 362.73,348.76 379.39,334.24 396.04,331.6 412.7,313.56" fill="none" stroke="#0fc8c8" stroke-width="1.3" stroke-linejoin="round"/><polyline points="262.8,380.99 279.46,379.89 296.11,378.9 312.77,377.47 329.42,372.96 346.08,366.47 362.73,354.59 379.39,346.34 396.04,336.99 412.7,317.63" fill="none" stroke="#a24a45" stroke-width="1.3" stroke-linejoin="round"/><polyline points="262.8,381.98 279.46,380.99 296.11,379.89 312.77,378.24 329.42,374.72 346.08,372.63 362.73,365.81 379.39,349.86 396.04,337.98 412.7,326.98" fill="none" stroke="#a3a000" stroke-width="1.3" stroke-linejoin="round"/><polyline points="262.8,382.64 279.46,381.65 296.11,380.33 312.77,378.9 329.42,376.15 346.08,374.17 362.73,372.63 379.39,353.6 396.04,349.42 412.7,330.72" fill="none" stroke="#ff700a" stroke-width="1.3" stroke-linejoin="round"/><rect x="262.8" y="274.4" width="149.9" height="110" fill="none" stroke="#4a4a4a" stroke-width="1.2"/><path d="M262.8 384.4v2.6M262.8 274.4v2.6M279.46 384.4v2.6M279.46 274.4v2.6M296.11 384.4v2.6M296.11 274.4v2.6M312.77 384.4v2.6M312.77 274.4v2.6M329.42 384.4v2.6M329.42 274.4v2.6M346.08 384.4v2.6M346.08 274.4v2.6M362.73 384.4v2.6M362.73 274.4v2.6M379.39 384.4v2.6M379.39 274.4v2.6M396.04 384.4v2.6M396.04 274.4v2.6M412.7 384.4v2.6M412.7 274.4v2.6M262.8 384.4h-2.4M412.7 384.4h-2.4M262.8 373.4h-1.3M412.7 373.4h-1.3M262.8 362.4h-2.4M412.7 362.4h-2.4M262.8 351.4h-1.3M412.7 351.4h-1.3M262.8 340.4h-2.4M412.7 340.4h-2.4M262.8 329.4h-1.3M412.7 329.4h-1.3M262.8 318.4h-2.4M412.7 318.4h-2.4M262.8 307.4h-1.3M412.7 307.4h-1.3M262.8 296.4h-2.4M412.7 296.4h-2.4M262.8 285.4h-1.3M412.7 285.4h-1.3M262.8 274.4h-2.4M412.7 274.4h-2.4" stroke="#333" stroke-width="1" fill="none"/><text class="n" x="262.8" y="394" font-size="6.4" text-anchor="middle">1</text><text class="n" x="279.46" y="394" font-size="6.4" text-anchor="middle">2</text><text class="n" x="296.11" y="394" font-size="6.4" text-anchor="middle">3</text><text class="n" x="312.77" y="394" font-size="6.4" text-anchor="middle">4</text><text class="n" x="329.42" y="394" font-size="6.4" text-anchor="middle">5</text><text class="n" x="346.08" y="394" font-size="6.4" text-anchor="middle">6</text><text class="n" x="362.73" y="394" font-size="6.4" text-anchor="middle">7</text><text class="n" x="379.39" y="394" font-size="6.4" text-anchor="middle">8</text><text class="n" x="396.04" y="394" font-size="6.4" text-anchor="middle">9</text><text class="n" x="412.7" y="394" font-size="6.4" text-anchor="middle">10</text><text class="n" x="258.6" y="387.2" font-size="6.1" text-anchor="end">0</text><text class="n" x="415.7" y="386.9" font-size="6.1" text-anchor="start">0</text><text class="n" x="258.6" y="365.2" font-size="6.1" text-anchor="end">2</text><text class="n" x="415.7" y="364.9" font-size="6.1" text-anchor="start">2</text><text class="n" x="258.6" y="343.2" font-size="6.1" text-anchor="end">4</text><text class="n" x="415.7" y="342.9" font-size="6.1" text-anchor="start">4</text><text class="n" x="258.6" y="321.2" font-size="6.1" text-anchor="end">6</text><text class="n" x="415.7" y="320.9" font-size="6.1" text-anchor="start">6</text><text class="n" x="258.6" y="299.2" font-size="6.1" text-anchor="end">8</text><text class="n" x="415.7" y="298.9" font-size="6.1" text-anchor="start">8</text><text class="n" x="258.6" y="277.2" font-size="6.1" text-anchor="end">10</text><text class="n" x="415.7" y="276.9" font-size="6.1" text-anchor="start">10</text><text class="t" x="338.05" y="396.8" font-size="8.6" font-weight="bold" text-anchor="middle" fill="#000">&#963;</text><text class="t" x="338.25" y="272.5" font-size="8" font-weight="bold" text-anchor="middle" fill="#000" stroke="#000" stroke-width="0.2">b3 TLS</text><text class="t" x="252.1" y="329.4" font-size="5.3" font-weight="bold" text-anchor="middle" transform="rotate(-90 252.1 329.4)">RMSEr</text></g>
<g><line x1="279.46" y1="406.6" x2="279.46" y2="516.6" stroke="#f1f1f1" stroke-width="0.8"/><line x1="296.11" y1="406.6" x2="296.11" y2="516.6" stroke="#f1f1f1" stroke-width="0.8"/><line x1="312.77" y1="406.6" x2="312.77" y2="516.6" stroke="#f1f1f1" stroke-width="0.8"/><line x1="329.42" y1="406.6" x2="329.42" y2="516.6" stroke="#f1f1f1" stroke-width="0.8"/><line x1="346.08" y1="406.6" x2="346.08" y2="516.6" stroke="#f1f1f1" stroke-width="0.8"/><line x1="362.73" y1="406.6" x2="362.73" y2="516.6" stroke="#f1f1f1" stroke-width="0.8"/><line x1="379.39" y1="406.6" x2="379.39" y2="516.6" stroke="#f1f1f1" stroke-width="0.8"/><line x1="396.04" y1="406.6" x2="396.04" y2="516.6" stroke="#f1f1f1" stroke-width="0.8"/><polyline points="262.8,505.82 279.46,500.65 296.11,499.55 312.77,489.21 329.42,471.94 346.08,453.9 362.73,436.85 379.39,426.51 396.04,422.33 412.7,412.43" fill="none" stroke="#676767" stroke-width="1.3" stroke-linejoin="round"/><polyline points="262.8,507.47 279.46,508.46 296.11,502.74 312.77,491.85 329.42,482.83 346.08,464.35 362.73,438.39 379.39,427.61 396.04,423.21 412.7,413.42" fill="none" stroke="#ff3b3b" stroke-width="1.3" stroke-linejoin="round"/><polyline points="262.8,507.91 279.46,508.46 296.11,503.29 312.77,497.13 329.42,485.25 346.08,470.95 362.73,445.21 379.39,434.65 396.04,431.46 412.7,421.78" fill="none" stroke="#0a6fef" stroke-width="1.3" stroke-linejoin="round"/><polyline points="262.8,508.9 279.46,510.99 296.11,506.26 312.77,497.46 329.42,485.8 346.08,473.26 362.73,455.99 379.39,453.35 396.04,442.46 412.7,427.94" fill="none" stroke="#00a85a" stroke-width="1.3" stroke-linejoin="round"/><polyline points="262.8,510.99 279.46,511.98 296.11,507.25 312.77,497.46 329.42,493.94 346.08,482.61 362.73,461.6 379.39,460.17 396.04,447.3 412.7,434.87" fill="none" stroke="#c77ce0" stroke-width="1.3" stroke-linejoin="round"/><polyline points="262.8,512.42 279.46,512.42 296.11,508.9 312.77,503.29 329.42,494.93 346.08,485.03 362.73,481.29 379.39,468.86 396.04,453.35 412.7,443.12" fill="none" stroke="#e39b0f" stroke-width="1.3" stroke-linejoin="round"/><polyline points="262.8,511.65 279.46,511.65 296.11,510 312.77,505.16 329.42,499.33 346.08,497.46 362.73,496.03 379.39,470.07 396.04,455 412.7,448.29" fill="none" stroke="#0fc8c8" stroke-width="1.3" stroke-linejoin="round"/><polyline points="262.8,513.74 279.46,514.07 296.11,513.08 312.77,510 329.42,507.36 346.08,505.16 362.73,503.29 379.39,495.48 396.04,489.21 412.7,481.29" fill="none" stroke="#a24a45" stroke-width="1.3" stroke-linejoin="round"/><polyline points="262.8,514.07 279.46,514.51 296.11,514.07 312.77,511.98 329.42,510.22 346.08,508.9 362.73,507.91 379.39,499.55 396.04,491.74 412.7,482.94" fill="none" stroke="#a3a000" stroke-width="1.3" stroke-linejoin="round"/><polyline points="262.8,514.73 279.46,514.73 296.11,514.07 312.77,513.08 329.42,510.99 346.08,509.56 362.73,508.9 379.39,507.91 396.04,497.46 412.7,487.78" fill="none" stroke="#ff700a" stroke-width="1.3" stroke-linejoin="round"/><rect x="262.8" y="406.6" width="149.9" height="110" fill="none" stroke="#4a4a4a" stroke-width="1.2"/><path d="M262.8 516.6v2.6M262.8 406.6v2.6M279.46 516.6v2.6M279.46 406.6v2.6M296.11 516.6v2.6M296.11 406.6v2.6M312.77 516.6v2.6M312.77 406.6v2.6M329.42 516.6v2.6M329.42 406.6v2.6M346.08 516.6v2.6M346.08 406.6v2.6M362.73 516.6v2.6M362.73 406.6v2.6M379.39 516.6v2.6M379.39 406.6v2.6M396.04 516.6v2.6M396.04 406.6v2.6M412.7 516.6v2.6M412.7 406.6v2.6M262.8 516.6h-2.4M412.7 516.6h-2.4M262.8 505.6h-1.3M412.7 505.6h-1.3M262.8 494.6h-2.4M412.7 494.6h-2.4M262.8 483.6h-1.3M412.7 483.6h-1.3M262.8 472.6h-2.4M412.7 472.6h-2.4M262.8 461.6h-1.3M412.7 461.6h-1.3M262.8 450.6h-2.4M412.7 450.6h-2.4M262.8 439.6h-1.3M412.7 439.6h-1.3M262.8 428.6h-2.4M412.7 428.6h-2.4M262.8 417.6h-1.3M412.7 417.6h-1.3M262.8 406.6h-2.4M412.7 406.6h-2.4" stroke="#333" stroke-width="1" fill="none"/><text class="n" x="262.8" y="526.2" font-size="6.4" text-anchor="middle">1</text><text class="n" x="279.46" y="526.2" font-size="6.4" text-anchor="middle">2</text><text class="n" x="296.11" y="526.2" font-size="6.4" text-anchor="middle">3</text><text class="n" x="312.77" y="526.2" font-size="6.4" text-anchor="middle">4</text><text class="n" x="329.42" y="526.2" font-size="6.4" text-anchor="middle">5</text><text class="n" x="346.08" y="526.2" font-size="6.4" text-anchor="middle">6</text><text class="n" x="362.73" y="526.2" font-size="6.4" text-anchor="middle">7</text><text class="n" x="379.39" y="526.2" font-size="6.4" text-anchor="middle">8</text><text class="n" x="396.04" y="526.2" font-size="6.4" text-anchor="middle">9</text><text class="n" x="412.7" y="526.2" font-size="6.4" text-anchor="middle">10</text><text class="n" x="258.6" y="519.4" font-size="6.1" text-anchor="end">0</text><text class="n" x="415.7" y="519.1" font-size="6.1" text-anchor="start">0</text><text class="n" x="258.6" y="497.4" font-size="6.1" text-anchor="end">2</text><text class="n" x="415.7" y="497.1" font-size="6.1" text-anchor="start">2</text><text class="n" x="258.6" y="475.4" font-size="6.1" text-anchor="end">4</text><text class="n" x="415.7" y="475.1" font-size="6.1" text-anchor="start">4</text><text class="n" x="258.6" y="453.4" font-size="6.1" text-anchor="end">6</text><text class="n" x="415.7" y="453.1" font-size="6.1" text-anchor="start">6</text><text class="n" x="258.6" y="431.4" font-size="6.1" text-anchor="end">8</text><text class="n" x="415.7" y="431.1" font-size="6.1" text-anchor="start">8</text><text class="n" x="258.6" y="409.4" font-size="6.1" text-anchor="end">10</text><text class="n" x="415.7" y="409.1" font-size="6.1" text-anchor="start">10</text><text class="t" x="338.05" y="529" font-size="8.6" font-weight="bold" text-anchor="middle" fill="#000">&#963;</text><text class="t" x="338.25" y="404.7" font-size="8" font-weight="bold" text-anchor="middle" fill="#000" stroke="#000" stroke-width="0.2">b4 RWTLS</text><text class="t" x="252.1" y="461.6" font-size="5.3" font-weight="bold" text-anchor="middle" transform="rotate(-90 252.1 461.6)">RMSEr</text></g>
<line x1="16.25" y1="541" x2="38.45" y2="541" stroke="#4a4a4a" stroke-width="1.8"/>
<text x="44.05" y="545.3" font-family="Liberation Serif,serif" font-size="12" fill="#222">r1</text>
<line x1="55" y1="541" x2="77.2" y2="541" stroke="#ff3b3b" stroke-width="1.8"/>
<text x="82.8" y="545.3" font-family="Liberation Serif,serif" font-size="12" fill="#222">r2</text>
<line x1="93.75" y1="541" x2="115.95" y2="541" stroke="#0a6fef" stroke-width="1.8"/>
<text x="121.55" y="545.3" font-family="Liberation Serif,serif" font-size="12" fill="#222">r3</text>
<line x1="132.5" y1="541" x2="154.7" y2="541" stroke="#00a85a" stroke-width="1.8"/>
<text x="160.3" y="545.3" font-family="Liberation Serif,serif" font-size="12" fill="#222">r4</text>
<line x1="170.8" y1="541" x2="193" y2="541" stroke="#c77ce0" stroke-width="1.8"/>
<text x="198.6" y="545.3" font-family="Liberation Serif,serif" font-size="12" fill="#222">r5</text>
<line x1="209.5" y1="541" x2="231.7" y2="541" stroke="#e39b0f" stroke-width="1.8"/>
<text x="237.3" y="545.3" font-family="Liberation Serif,serif" font-size="12" fill="#222">r6</text>
<line x1="247.5" y1="541" x2="269.7" y2="541" stroke="#0fc8c8" stroke-width="1.8"/>
<text x="275.3" y="545.3" font-family="Liberation Serif,serif" font-size="12" fill="#222">r7</text>
<line x1="286.6" y1="541" x2="308.8" y2="541" stroke="#a24a45" stroke-width="1.8"/>
<text x="314.4" y="545.3" font-family="Liberation Serif,serif" font-size="12" fill="#222">r8</text>
<line x1="324.8" y1="541" x2="347" y2="541" stroke="#a3a000" stroke-width="1.8"/>
<text x="352.6" y="545.3" font-family="Liberation Serif,serif" font-size="12" fill="#222">r9</text>
<line x1="363.9" y1="541" x2="386.1" y2="541" stroke="#ff700a" stroke-width="1.8"/>
<text x="391.7" y="545.3" font-family="Liberation Serif,serif" font-size="12" fill="#222">r10</text>
</svg></body></html>
